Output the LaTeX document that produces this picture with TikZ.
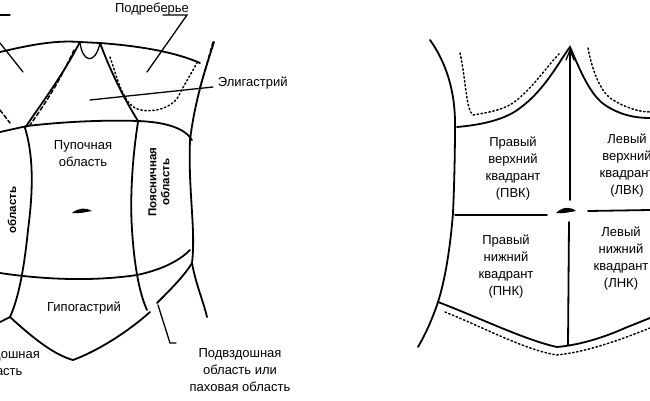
\documentclass[tikz,border=0pt]{standalone}
\usepackage{fontspec}
\setmainfont{Liberation Sans}
\begin{document}
\begin{tikzpicture}[x=1pt,y=-1pt,line width=1.8pt,line cap=round,
  lbl/.style={font=\fontsize{13}{17}\selectfont,align=center,inner sep=1pt},
  rot/.style={font=\bfseries\fontsize{11.5}{13}\selectfont,align=center,inner sep=1pt,rotate=90},
  dot/.style={line width=1.5pt,dash pattern=on 1.5pt off 2.5pt},
  dsh/.style={line width=1.5pt,dash pattern=on 4pt off 2.5pt},
  thin/.style={line width=1.3pt}]
\useasboundingbox (0,0) rectangle (650,400);
\clip (0,0) rectangle (650,400);
% ---------- left figure ----------
\draw (0,52) .. controls (30,45) and (55,40) .. (80,42) -- (100,43) .. controls (140,46) and (175,52) .. (200,63);
\draw[thin] (80,42) .. controls (82,62) and (95,66) .. (100,43);
\draw (80,42) .. controls (60,80) and (40,105) .. (25,128);
\draw[dsh] (74,50) .. controls (58,85) and (42,108) .. (30,125);
\draw (100,43) .. controls (112,75) and (125,100) .. (138,121);
\draw[dot] (110,57) .. controls (118,80) and (122,100) .. (135,108) .. controls (150,115) and (175,108) .. (180,93) .. controls (186,82) and (192,72) .. (197,63);
\draw[dsh] (213,42) .. controls (208,60) and (204,75) .. (200,87);
\draw (214,42) .. controls (205,70) and (195,100) .. (190,140) .. controls (188,190) and (196,230) .. (192,263) .. controls (196,285) and (203,300) .. (207,317);
\draw (0,132) -- (27,126) .. controls (70,121) and (110,120) .. (138,121) .. controls (165,122) and (185,128) .. (192,140);
\draw (25,128) .. controls (35,160) and (32,200) .. (28,230) .. controls (25,260) and (20,295) .. (10,317) -- (0,322);
\draw (138,122) .. controls (132,160) and (130,200) .. (132,230) .. controls (134,260) and (138,290) .. (147,310);
\draw (0,273) .. controls (40,279) and (90,282) .. (137,275) .. controls (160,270) and (178,262) .. (190,250);
\draw (10,317) .. controls (35,340) and (55,355) .. (73,360) .. controls (100,350) and (130,330) .. (150,312);
\draw (157,303) .. controls (170,290) and (185,275) .. (192,263);
\draw[thin] (158,305) -- (170,343) -- (176,343);
\draw[thin] (0,15) -- (10,15);
\draw[thin] (0,43) -- (23,72);
\draw[thin] (163,15) -- (187,15) -- (147,72);
\draw[thin] (90,100) -- (213,87);
\draw[dsh] (0,110) -- (10,123);
\fill (72,213) .. controls (78,208) and (86,207) .. (92,211) .. controls (86,212) and (78,214) .. (72,213);
\node[lbl] (t1) at (152,9) {Подреберье};
\node[lbl,anchor=west] (t2) at (216,83) {Элигастрий};
\node[lbl] (t3) at (83,154) {Пупочная\\область};
\node[rot] (t4) at (159,182) {Поясничная\\область};
\node[rot] (t5) at (12,210) {область};
\node[lbl] (t6) at (84,308) {Гипогастрий};
\node[lbl,anchor=north west] (t7) at (-45,348) {Подвздошная\\ область};
\node[lbl] (t8) at (240,370) {Подвздошная\\область или\\паховая область};
% ---------- right figure ----------
\draw (430,40) .. controls (448,65) and (455,95) .. (455,123) .. controls (455,160) and (454,190) .. (453,213) .. controls (450,250) and (445,280) .. (438,302) .. controls (432,320) and (425,335) .. (418,347);
\draw (457,127) .. controls (480,125) and (505,120) .. (520,108) .. controls (545,90) and (560,60) .. (570,47) .. controls (580,70) and (590,95) .. (605,105) .. controls (620,115) and (635,118) .. (650,118);
\draw[dot] (460,53) .. controls (466,80) and (466,110) .. (473,115) .. controls (490,112) and (505,110) .. (517,100) .. controls (535,85) and (548,65) .. (560,53);
\draw[dot] (588,48) .. controls (592,70) and (600,90) .. (610,98) .. controls (625,108) and (640,112) .. (650,112);
\draw (438,302) .. controls (480,318) and (525,340) .. (557,347) .. controls (580,345) and (605,337) .. (625,328) -- (650,318);
\draw[dot] (445,312) .. controls (485,328) and (525,350) .. (557,355) .. controls (585,352) and (615,342) .. (650,328);
\draw (570,200) -- (570,52);
\draw[thin] (566,60) -- (570,50) -- (574,60);
\draw (569,222) -- (568,345);
\draw (455,215) -- (547,215);
\draw (588,211) -- (650,210);
\fill (556,213) .. controls (562,207) and (570,206) .. (576,211) .. controls (570,212) and (562,214) .. (556,213);
\node[lbl] (r1) at (513,169) {Правый\\верхний\\квадрант\\(ПВК)};
\node[lbl] (r2) at (506,267) {Правый\\нижний\\квадрант\\(ПНК)};
\node[lbl] (r3) at (627,166) {Левый\\верхний\\квадрант\\(ЛВК)};
\node[lbl] (r4) at (621,259) {Левый\\нижний\\квадрант\\(ЛНК)};
\end{tikzpicture}
\end{document}
